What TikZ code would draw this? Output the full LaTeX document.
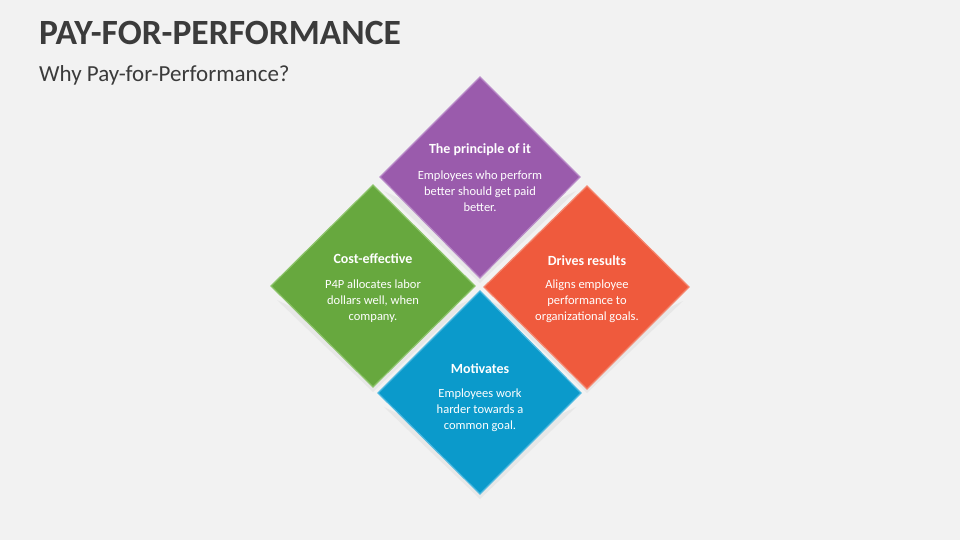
\documentclass[tikz,border=0pt]{standalone}
\usepackage{fontspec}
\setmainfont{Carlito}
\definecolor{bg}{HTML}{F2F2F2}
\definecolor{ttl}{HTML}{3B3B3B}
\definecolor{pur}{HTML}{9A5BAC}
\definecolor{purb}{HTML}{B98BC8}
\definecolor{grn}{HTML}{67A83E}
\definecolor{grnb}{HTML}{8CC46A}
\definecolor{org}{HTML}{EF5A3D}
\definecolor{orgb}{HTML}{F5866E}
\definecolor{blu}{HTML}{0B9ACB}
\definecolor{blub}{HTML}{4DB9E0}
\begin{document}
\begin{tikzpicture}[x=1pt,y=-1pt,
  dia/.style={draw=#1, line width=1.2pt},
  hd/.style={text=white,font=\bfseries\fontsize{14}{16}\selectfont,align=center},
  bd/.style={text=white,font=\fontsize{12.5}{16}\selectfont,align=center}]
\fill[bg] (0,0) rectangle (960,540);
\useasboundingbox (0,0) rectangle (960,540);
\node[anchor=west,text=ttl,font=\bfseries\fontsize{35.5}{40}\selectfont,inner sep=0] (title) at (39,33) {PAY-FOR-PERFORMANCE};
\node[anchor=west,text=ttl,font=\fontsize{23}{27}\selectfont,inner sep=0] (sub) at (39,75) {Why Pay-for-Performance?};
% shadows
\foreach \cx/\cy in {480/177,373/286,587/287,480/393}{
  \fill[black!12,opacity=0.6] (\cx-96,\cy+14) -- (\cx,\cy+106) -- (\cx+96,\cy+14) -- (\cx,\cy+60) -- cycle;}
% diamonds
\filldraw[fill=pur,dia=purb] (480,77) -- (580,177) -- (480,278) -- (380,177) -- cycle;
\filldraw[fill=grn,dia=grnb] (373,185) -- (475,286) -- (373,387) -- (271,286) -- cycle;
\filldraw[fill=org,dia=orgb] (587,186) -- (689,287) -- (587,389) -- (484,287) -- cycle;
\filldraw[fill=blu,dia=blub] (480,291) -- (581,393) -- (480,494) -- (378,393) -- cycle;
% texts
\node[hd] (h1) at (480,150) {The principle of it};
\node[bd] (b1) at (480,191) {Employees who perform\\better should get paid\\better.};
\node[hd] (h2) at (373,259) {Cost-effective};
\node[bd] (b2) at (373,301) {P4P allocates labor\\dollars well, when\\company.};
\node[hd] (h3) at (587,261) {Drives results};
\node[bd] (b3) at (587,301) {Aligns employee\\performance to\\organizational goals.};
\node[hd] (h4) at (480,369) {Motivates};
\node[bd] (b4) at (480,410) {Employees work\\harder towards a\\common goal.};
\end{tikzpicture}
\end{document}
